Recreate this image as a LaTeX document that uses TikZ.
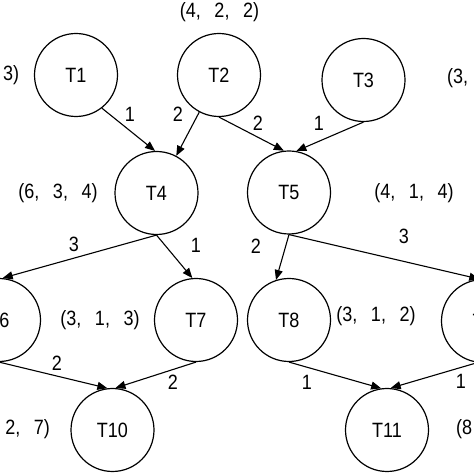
\documentclass[tikz,border=0pt]{standalone}
\usepackage{fontspec}
\usepackage{graphicx}
\setmainfont{Liberation Sans}
\usetikzlibrary{arrows.meta}
\newcommand{\tx}[1]{\scalebox{1}[1.15]{#1}}
\newcommand{\tup}[3]{\tx{(#1,\hspace{0.75em}#2,\hspace{0.75em}#3)}}
\begin{document}
\begin{tikzpicture}[x=1pt,y=1pt,
  task/.style={draw,circle,line width=1.2pt,minimum size=83pt,inner sep=0pt,font=\fontsize{18}{20}\selectfont},
  lbl/.style={inner sep=0pt,font=\fontsize{18}{20}\selectfont},
  edge/.style={line width=1.1pt,-{Triangle[length=10pt,width=8pt]}}]
\useasboundingbox (0,0) rectangle (474,474);
\clip (0,0) rectangle (474,474);
\fill[white] (0,0) rectangle (474,474);
% tasks
\node[task] (T1) at (76,399) {\tx{T1}};
\node[task] (T2) at (219,399) {\tx{T2}};
\node[task] (T3) at (363.5,394) {\tx{T3}};
\node[task] (T4) at (156.5,281) {\tx{T4}};
\node[task] (T5) at (289,281.5) {\tx{T5}};
\node[task] (T6) at (-1,154) {\tx{T6}};
\node[task] (T7) at (196,154) {\tx{T7}};
\node[task] (T8) at (289,154) {\tx{T8}};
\node[task] (T9) at (483,153) {\tx{T9}};
\node[task] (T10) at (112.5,44) {\tx{T10}};
\node[task] (T11) at (387,44) {\tx{T11}};
% edges
\draw[edge] (T1.308) -- (T4.92);
\draw[edge] (T2.242) -- (T4.62);
\draw[edge] (T2.270) -- (T5.97);
\draw[edge] (T3.270) -- (T5.80);
\draw[edge] (T4.270) -- (T6.85);
\draw[edge] (T4.270) -- (T7.95);
\draw[edge] (T5.270) -- (T8.108);
\draw[edge] (T5.270) -- (T9.95);
\draw[edge] (T6.270) -- (T10.97);
\draw[edge] (T7.270) -- (T10.86);
\draw[edge] (T8.270) -- (T11.98);
\draw[edge] (T9.262) -- (T11.85);
% edge weights
\node[lbl] (w14) at (130,360) {\tx{1}};
\node[lbl] (w24) at (178,360) {\tx{2}};
\node[lbl] (w25) at (258,351) {\tx{2}};
\node[lbl] (w35) at (319,351) {\tx{1}};
\node[lbl] (w46) at (74,230) {\tx{3}};
\node[lbl] (w47) at (196,229) {\tx{1}};
\node[lbl] (w58) at (256,228) {\tx{2}};
\node[lbl] (w59) at (404,238) {\tx{3}};
\node[lbl] (w610) at (57,111) {\tx{2}};
\node[lbl] (w710) at (173,92) {\tx{2}};
\node[lbl] (w811) at (307,92) {\tx{1}};
\node[lbl] (w911) at (461,93) {\tx{1}};
% tuples
\node[lbl] (p2) at (219.5,462) {\tup{4}{2}{2}};
\node[lbl,anchor=west] (p1) at (3,399) {\tx{3)}};
\node[lbl,anchor=west] (p3) at (447,396) {\tx{(3,}};
\node[lbl] (p4) at (58,281) {\tup{6}{3}{4}};
\node[lbl] (p5) at (414,281) {\tup{4}{1}{4}};
\node[lbl] (p7) at (100,154) {\tup{3}{1}{3}};
\node[lbl] (p8) at (376,158) {\tup{3}{1}{2}};
\node[lbl,anchor=east] (p10) at (50,45) {\tx{2,\hspace{0.75em}7)}};
\node[lbl,anchor=west] (p11) at (456,45) {\tx{(8}};
\end{tikzpicture}
\end{document}
